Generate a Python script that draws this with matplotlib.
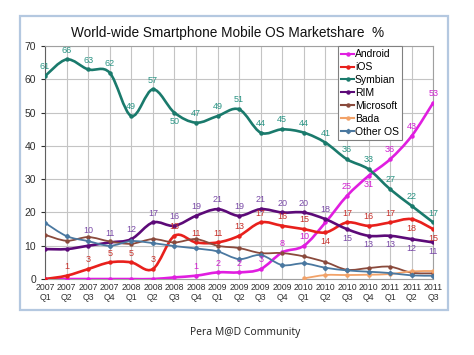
import numpy as np
import matplotlib
matplotlib.use('Agg')
import matplotlib.pyplot as plt
from matplotlib.path import Path
from matplotlib.patches import PathPatch, Rectangle
from matplotlib.lines import Line2D

plt.rcParams['font.family'] = ['Liberation Sans', 'DejaVu Sans']

# quarters 2007 Q1 .. 2011 Q3
years = ['2007'] * 4 + ['2008'] * 4 + ['2009'] * 4 + ['2010'] * 4 + ['2011'] * 3
qtrs = ['Q1', 'Q2', 'Q3', 'Q4'] * 4 + ['Q1', 'Q2', 'Q3']
quarters = [y + '\n' + q for y, q in zip(years, qtrs)]

nan = np.nan
android = [0, 0, 0, 0, 0, 0, 0.5, 1, 2, 2, 3, 8, 10, 17, 25, 31, 36, 43, 53]
ios = [0, 1, 3, 5, 5, 3, 13, 11, 11, 13, 17, 16, 15, 14, 17, 16, 17, 18, 15]
symbian = [61, 66, 63, 62, 49, 57, 50, 47, 49, 51, 44, 45, 44, 41, 36, 33, 27, 22, 17]
rim = [9, 9, 10, 11, 12, 17, 16, 19, 21, 19, 21, 20, 20, 18, 15, 13, 13, 12, 11]
microsoft = [13.3, 11.5, 12.6, 11.3, 10.6, 12, 11, 12, 10, 9.3, 7.8, 7.8, 6.8, 5.1, 2.8, 3.3, 3.7, 1.9, 1.7]
bada = [nan] * 12 + [0.2, 1.2, 1.2, 1.3, 1.5, 2.3, 2.4]
other = [16.9, 12.9, 11.4, 10, 11.4, 10.8, 9.9, 9.2, 8.3, 6, 7.2, 4.2, 4.7, 3.4, 2.6, 2.2, 1.8, 1.1, 1.0]

# which points carry a data label ('a' above, 'h' high above, 'b' below, '' none)
android_lab = [''] * 7 + ['a'] * 6 + ['', 'a', 'b', 'a', 'a', 'a']
ios_lab = [''] + ['a'] * 12 + ['b', 'a', 'a', 'a', 'b', 'b']
symbian_lab = ['a'] * 6 + ['b'] + ['a'] * 12
rim_lab = ['', '', 'h'] + ['a'] * 11 + ['b'] * 5

series = [
    ('Android', android, '#e01ee0', '#d020d0', android_lab, 'o'),
    ('iOS', ios, '#e8201c', '#c8302a', ios_lab, 'o'),
    ('Symbian', symbian, '#1a7a6c', '#2a9484', symbian_lab, 'o'),
    ('RIM', rim, '#5c0a78', '#7a4aa8', rim_lab, 'o'),
    ('Microsoft', microsoft, '#8a4a3c', None, None, 'o'),
    ('Bada', bada, '#f2a268', None, None, 'o'),
    ('Other OS', other, '#4a78a0', None, None, 'D'),
]
offsets = {'a': 3.5, 'h': 7.5, 'b': -3.2}


def smooth_path(x, y):
    # Excel-like smoothed line: Catmull-Rom segments as cubic Beziers
    n = len(x)
    verts = [(x[0], y[0])]
    codes = [Path.MOVETO]
    for i in range(n - 1):
        x0, y0 = (x[i - 1], y[i - 1]) if i > 0 else (x[i], y[i])
        x3, y3 = (x[i + 2], y[i + 2]) if i + 2 < n else (x[i + 1], y[i + 1])
        c1 = (x[i] + (x[i + 1] - x0) / 6.0, y[i] + (y[i + 1] - y0) / 6.0)
        c2 = (x[i + 1] - (x3 - x[i]) / 6.0, y[i + 1] - (y3 - y[i]) / 6.0)
        verts += [c1, c2, (x[i + 1], y[i + 1])]
        codes += [Path.CURVE4] * 3
    return Path(verts, codes)


fig = plt.figure(figsize=(4.74, 3.55), dpi=100)
fig.patches.append(Rectangle((0.042, 0.127), 0.903, 0.828, transform=fig.transFigure,
                             fill=False, edgecolor='#b4c8e0', linewidth=1.6))
ax = fig.add_axes([0.095, 0.214, 0.819, 0.656])

xs = np.arange(len(quarters))
handles = []
for name, vals, col, lcol, labs, mk in series:
    v = np.array(vals, dtype=float)
    ok = ~np.isnan(v)
    ax.add_patch(PathPatch(smooth_path(xs[ok], v[ok]), fill=False, edgecolor=col,
                           linewidth=1.9 if labs else 1.3, zorder=3, capstyle='round'))
    ax.plot(xs[ok], v[ok], linestyle='none', marker=mk, markersize=2.2, color=col, zorder=4)
    handles.append(Line2D([], [], color=col, linewidth=1.5, marker=mk, markersize=2.2))
    if labs:
        for i, p in enumerate(labs):
            if not p:
                continue
            ax.annotate('%d' % round(v[i]), (xs[i], v[i]), xytext=(0, offsets[p]),
                        textcoords='offset points', ha='center',
                        va='top' if p == 'b' else 'bottom',
                        fontsize=6.5, color=lcol, zorder=5)

ax.set_xlim(0, len(quarters) - 1)
ax.set_ylim(0, 70)
ax.set_yticks(range(0, 71, 10))
ax.set_xticks(xs)
ax.set_xticklabels(quarters, fontsize=6.3, color='#303030', linespacing=1.15)
ax.tick_params(axis='y', labelsize=7.5, colors='#303030', length=3)
ax.tick_params(axis='x', length=0, pad=3)
ax.grid(True, color='#c4c4c4', linewidth=0.8)
ax.set_axisbelow(True)
for s in ax.spines.values():
    s.set_color('#a0a0a0')
ax.spines['left'].set_color('#606060')

leg = ax.legend(handles, [s[0] for s in series], loc='upper left',
                bbox_to_anchor=(0.755, 1.0), borderaxespad=0, fontsize=7.5,
                handlelength=1.2, handletextpad=0.1, labelspacing=0.28,
                fancybox=False, framealpha=1, edgecolor='#808080', borderpad=0.3)
leg.get_frame().set_linewidth(0.8)

fig.text(0.481, 0.907, 'World-wide Smartphone Mobile OS Marketshare  %',
         ha='center', va='center', fontsize=9.8, color='#101010')
fig.text(0.517, 0.062, 'Pera M@D Community', ha='center', va='center',
         fontsize=7.5, family=['Open Sans', 'DejaVu Sans'], color='#202020')

plt.savefig('out.png', dpi=100)
